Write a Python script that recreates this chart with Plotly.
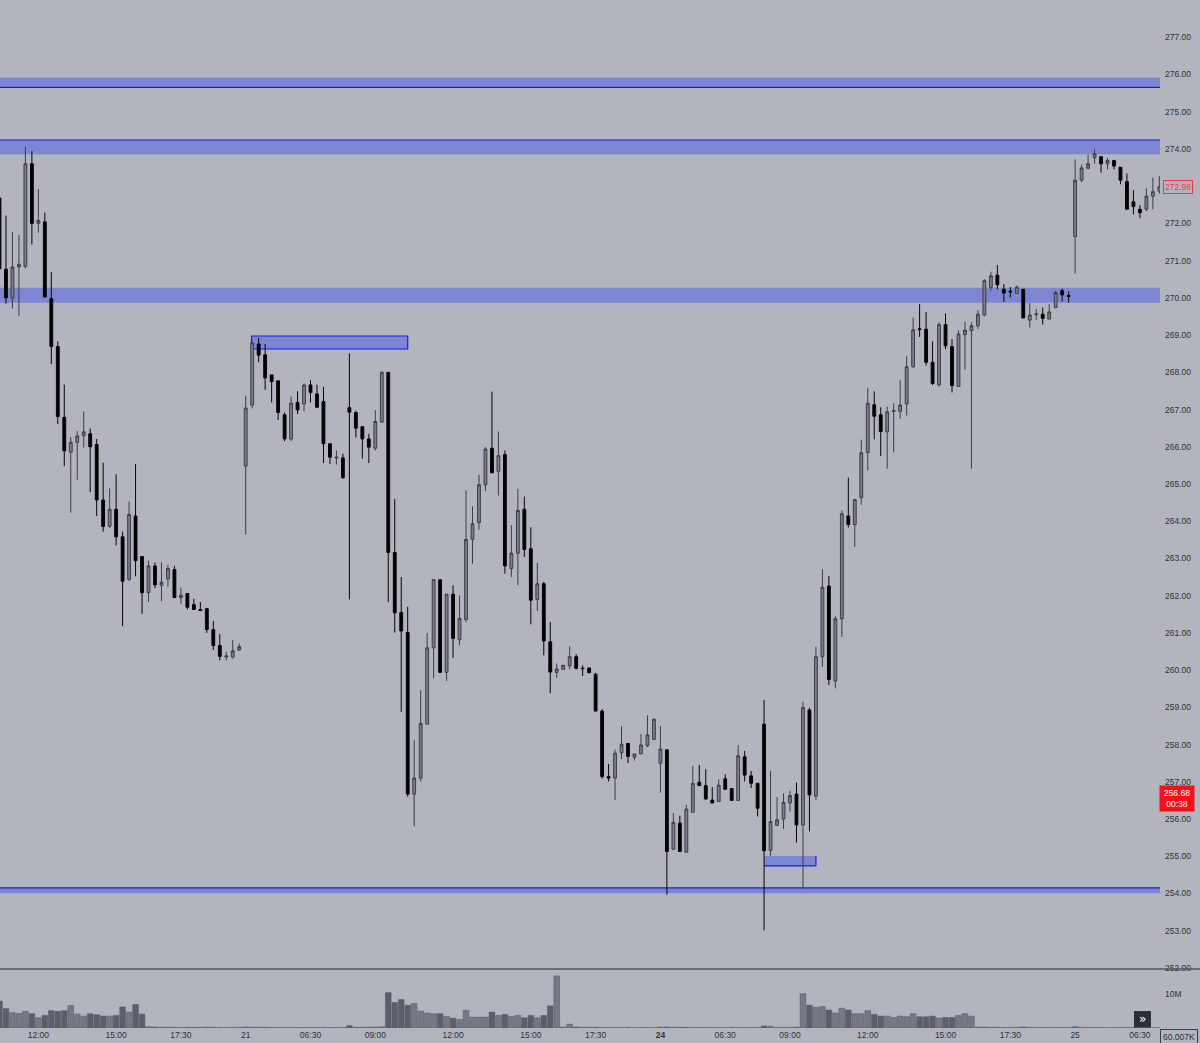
import plotly.graph_objects as go

# ---------------- data (15-minute bars, extended hours) ----------------
opens = [272.68, 270.77, 270.00, 270.83, 270.85, 273.60, 272.00, 272.04, 269.98, 268.69,
         266.79, 265.85, 266.12, 266.30, 266.35, 266.06, 264.57, 263.86, 264.32, 263.58,
         262.44, 264.14, 263.05, 262.08, 262.80, 262.28, 262.45, 262.70, 261.95, 262.06,
         261.76, 261.63, 261.65, 261.09, 260.66, 260.35, 260.35, 260.54, 265.48, 267.12,
         268.76, 268.47, 267.93, 267.77, 266.86, 266.21, 267.19, 267.15, 267.66, 267.42,
         267.21, 266.08, 265.70, 265.70, 267.05, 266.92, 266.54, 266.21, 265.96, 266.66,
         268.00, 263.16, 261.55, 261.01, 256.67, 257.10, 258.55, 260.60, 262.43, 259.94,
         262.04, 260.82, 261.36, 263.51, 263.96, 264.98, 265.96, 265.34, 265.79, 262.73,
         263.14, 264.32, 263.26, 261.90, 262.32, 260.76, 259.94, 260.02, 260.12, 260.36,
         260.05, 260.06, 259.89, 258.90, 257.14, 257.10, 257.78, 258.03, 257.66, 257.75,
         257.97, 258.14, 257.50, 257.86, 255.19, 255.89, 255.11, 256.18, 256.99, 256.90,
         256.51, 256.47, 257.08, 256.82, 256.50, 257.67, 257.16, 256.96, 258.55, 255.16,
         255.83, 256.00, 256.43, 256.67, 255.84, 258.93, 256.62, 260.36, 262.26, 259.71,
         261.38, 264.14, 263.91, 264.63, 265.84, 267.13, 266.86, 266.40, 266.95, 266.95,
         267.15, 268.15, 269.17, 269.16, 268.27, 267.67, 269.28, 268.69, 267.62, 269.01,
         269.12, 269.25, 269.54, 270.28, 270.61, 270.23, 270.18, 270.12, 270.23, 269.40,
         269.55, 269.56, 269.43, 269.74, 270.19, 270.06, 271.64, 273.16, 273.48, 273.76,
         273.79, 273.60, 273.69, 273.51, 273.12, 272.58, 272.38, 272.38, 272.73, 272.87]
highs = [272.72, 272.21, 271.77, 271.69, 274.06, 273.94, 272.92, 272.29, 270.69, 268.83,
         267.67, 266.26, 266.42, 266.95, 266.49, 266.21, 265.57, 264.88, 265.26, 263.72,
         264.53, 265.54, 263.05, 262.94, 262.89, 262.89, 262.83, 262.80, 262.22, 262.06,
         261.92, 261.83, 261.65, 261.32, 260.97, 260.49, 260.81, 260.72, 267.37, 268.83,
         268.92, 268.76, 267.93, 267.77, 266.92, 267.35, 267.49, 267.70, 267.79, 267.67,
         267.61, 266.08, 265.90, 265.81, 268.51, 266.97, 266.54, 266.35, 266.99, 268.02,
         268.00, 264.60, 262.50, 261.70, 258.12, 259.46, 261.00, 262.43, 262.43, 262.04,
         262.28, 262.01, 264.83, 264.40, 265.25, 265.99, 267.48, 266.41, 265.90, 263.89,
         264.87, 264.66, 263.84, 262.88, 262.37, 261.29, 260.18, 260.13, 260.64, 260.43,
         260.13, 260.06, 259.93, 258.95, 257.48, 257.87, 258.50, 258.03, 257.75, 258.28,
         258.79, 258.70, 258.50, 257.86, 256.16, 256.09, 256.38, 257.43, 257.45, 257.34,
         256.86, 257.07, 257.20, 256.82, 257.99, 257.83, 257.29, 256.96, 259.20, 257.29,
         256.59, 256.69, 256.76, 256.98, 259.15, 258.99, 260.63, 262.71, 262.53, 261.45,
         264.29, 265.17, 264.58, 266.19, 267.58, 267.49, 267.06, 267.08, 267.17, 267.79,
         268.43, 269.47, 269.83, 269.62, 268.83, 269.34, 269.58, 268.89, 269.13, 269.36,
         269.34, 269.67, 270.50, 270.70, 270.88, 270.37, 270.29, 270.33, 270.23, 269.86,
         269.70, 269.74, 269.83, 270.19, 270.25, 270.17, 273.72, 273.58, 273.85, 273.99,
         273.79, 273.76, 273.69, 273.51, 273.34, 272.89, 272.49, 272.94, 273.23, 273.27]
lows = [270.00, 269.84, 269.71, 269.52, 270.79, 271.43, 271.75, 270.02, 268.22, 266.61,
        265.48, 264.23, 265.11, 265.98, 264.78, 264.14, 263.72, 263.82, 263.35, 261.18,
        262.39, 262.52, 261.51, 261.83, 262.20, 261.85, 262.24, 261.95, 261.78, 261.63,
        261.63, 261.60, 261.00, 260.54, 260.26, 260.26, 260.31, 260.52, 263.64, 267.03,
        268.27, 267.53, 267.19, 266.72, 266.15, 266.15, 266.88, 266.95, 267.19, 267.06,
        265.56, 265.54, 265.52, 265.14, 261.90, 266.25, 265.68, 265.56, 265.90, 266.66,
        261.83, 261.01, 258.88, 256.60, 255.80, 257.01, 258.55, 259.78, 259.94, 259.71,
        260.33, 260.67, 261.29, 262.86, 263.77, 264.81, 265.30, 264.69, 262.59, 262.50,
        262.28, 263.04, 261.23, 261.59, 260.40, 259.38, 259.79, 260.02, 260.02, 260.02,
        259.84, 259.93, 258.90, 257.08, 257.01, 256.51, 257.61, 257.50, 257.57, 257.75,
        257.93, 258.14, 256.71, 253.97, 255.19, 255.13, 255.11, 256.18, 256.90, 256.51,
        256.43, 256.47, 256.80, 256.50, 256.50, 257.01, 256.83, 256.07, 253.01, 255.01,
        255.83, 255.73, 256.20, 255.37, 254.12, 255.67, 256.51, 260.09, 259.60, 259.51,
        260.89, 263.83, 263.31, 264.44, 265.36, 266.20, 265.75, 265.41, 265.85, 266.75,
        266.84, 268.12, 268.95, 268.18, 267.66, 267.61, 268.62, 267.46, 267.62, 268.07,
        265.41, 269.16, 269.50, 270.19, 270.23, 269.89, 270.01, 270.12, 269.46, 269.20,
        269.41, 269.28, 269.43, 269.72, 269.90, 269.87, 270.65, 273.11, 273.45, 273.60,
        273.36, 273.45, 273.45, 273.05, 272.38, 272.24, 272.14, 272.33, 272.38, 272.80]
closes = [270.78, 270.00, 270.83, 270.90, 273.60, 272.00, 272.08, 270.02, 268.69, 266.81,
          265.89, 266.12, 266.29, 266.40, 266.00, 264.57, 263.86, 264.32, 263.58, 262.39,
          264.18, 262.94, 262.08, 262.80, 262.29, 262.36, 262.73, 261.95, 262.01, 261.69,
          261.63, 261.60, 261.09, 260.66, 260.37, 260.38, 260.52, 260.63, 267.04, 268.79,
          268.46, 267.85, 267.75, 266.92, 266.21, 267.17, 266.99, 267.66, 267.46, 267.06,
          266.08, 265.72, 265.72, 265.17, 266.93, 266.50, 266.21, 265.99, 266.68, 268.00,
          263.16, 261.54, 261.05, 256.67, 257.10, 258.57, 260.60, 262.43, 259.94, 262.04,
          260.85, 261.39, 263.51, 263.93, 264.98, 265.94, 265.30, 265.76, 262.80, 263.14,
          264.29, 263.24, 261.88, 262.32, 260.78, 259.95, 260.03, 260.13, 260.36, 260.05,
          260.04, 259.93, 258.90, 257.14, 257.10, 257.77, 258.01, 257.68, 257.75, 257.99,
          258.26, 258.68, 257.88, 255.13, 255.91, 255.13, 256.27, 256.96, 256.90, 256.54,
          256.43, 256.91, 256.80, 256.50, 257.70, 257.18, 256.96, 256.29, 255.15, 255.93,
          255.98, 256.45, 256.63, 255.84, 258.99, 256.65, 260.36, 262.23, 259.75, 261.38,
          264.20, 263.91, 264.58, 265.84, 267.17, 266.82, 266.41, 266.94, 266.97, 267.12,
          268.15, 269.14, 269.15, 268.27, 267.70, 269.28, 268.71, 267.64, 269.03, 269.13,
          269.25, 269.56, 270.46, 270.59, 270.35, 270.13, 270.16, 270.29, 269.46, 269.54,
          269.57, 269.45, 269.62, 270.14, 270.08, 270.04, 273.16, 273.49, 273.60, 273.87,
          273.60, 273.69, 273.54, 273.16, 272.38, 272.45, 272.29, 272.73, 272.85, 272.98]
volumes_m = [7.9, 5.7, 4.5, 4.3, 4.9, 4.2, 3.0, 3.7, 5.1, 4.9, 5.1, 6.6, 4.1, 3.5, 4.2, 3.9,
             3.5, 3.5, 3.7, 6.2, 4.7, 6.9, 4.1,
             0.4, 0.3, 0.25, 0.2, 0.2, 0.15, 0.2, 0.15, 0.2, 0.25, 0.2, 0.15, 0.15, 0.2, 0.2,
             0.3, 0.25, 0.2, 0.2, 0.15, 0.15, 0.15, 0.15, 0.1, 0.15, 0.15, 0.15, 0.15, 0.1,
             0.15, 0.15, 0.7, 0.2, 0.2, 0.25, 0.3, 0.35,
             10.4, 7.5, 8.4, 6.7, 7.2, 5.0, 4.4, 4.2, 4.2, 3.4, 2.9, 2.5, 5.2, 3.2, 3.2, 3.2,
             4.7, 3.7, 4.0, 3.4, 3.7, 3.0, 3.7, 3.0, 3.7, 6.5, 15.3,
             0.3, 1.1, 0.3, 0.2, 0.2, 0.2, 0.15, 0.15, 0.2, 0.15, 0.15, 0.1, 0.15, 0.15, 0.1,
             0.3, 0.3, 0.2, 0.2, 0.2, 0.15, 0.15, 0.1, 0.15, 0.1, 0.1, 0.15, 0.15, 0.1, 0.1,
             0.15, 0.6, 0.5, 0.2, 0.2, 0.2, 0.25,
             10.1, 6.7, 6.1, 6.3, 5.3, 4.4, 5.8, 5.3, 4.2, 4.2, 5.1, 4.0, 3.5, 3.5, 3.1, 3.5,
             3.3, 4.2, 3.3, 3.3, 3.5, 2.9, 3.1, 3.1, 3.7, 4.2, 3.5,
             0.3, 0.3, 0.2, 0.2, 0.15, 0.15, 0.2, 0.3, 0.2, 0.15, 0.15, 0.2, 0.15, 0.15, 0.15,
             0.4, 0.2, 0.15, 0.15, 0.15, 0.1, 0.1, 0.1, 0.15, 0.1, 0.1, 0.1, 0.1, 0.1]
bar_index = list(range(len(closes)))

tick_positions = [6, 18, 28, 38, 48, 58, 70, 82, 92, 102, 112, 122, 134, 146, 156, 166, 176]
tick_labels = ["12:00", "15:00", "17:30", "21", "06:30", "09:00", "12:00", "15:00", "17:30",
               "<b>24</b>", "06:30", "09:00", "12:00", "15:00", "17:30", "25", "06:30"]

# horizontal zones (price low, price high)
zones = [(275.655, 275.913), (273.86, 274.24), (269.87, 270.27), (254.01, 254.15)]
zone_lines = [275.655, 274.24, None, 254.15]
box_a = (38.9, 63.0, 268.626, 268.975)
box_b = (118.0, 126.0, 254.74, 255.01)

last_price = 272.98
other_price = "256.68"
other_timer = "00:38"

# ---------------- figure ----------------
BG = "#b2b5be"
ZONE = "#7c86d3"
BLUE = "#1a1af0"
FONT = dict(family="Liberation Sans, Arial, sans-serif", size=8.5, color="#2e3038")

fig = go.Figure()
fig.add_trace(go.Candlestick(
    x=bar_index, open=opens, high=highs, low=lows, close=closes,
    increasing=dict(line=dict(color="#3c3e46", width=1), fillcolor="#7a7d88"),
    decreasing=dict(line=dict(color="#050505", width=1), fillcolor="#000000"),
    whiskerwidth=0, yaxis="y", xaxis="x", showlegend=False, hoverinfo="skip"))

vol_colors = ["#767985" if c >= o else "#5c5f6b" for o, c in zip(opens, closes)]
fig.add_trace(go.Bar(
    x=bar_index, y=volumes_m, marker=dict(color=vol_colors, line=dict(width=0.5, color="#555862")),
    yaxis="y2", xaxis="x", showlegend=False, hoverinfo="skip"))

shapes = []
for (lo, hi), ln in zip(zones, zone_lines):
    shapes.append(dict(type="rect", xref="paper", yref="y", x0=0, x1=1, y0=lo, y1=hi,
                       fillcolor=ZONE, line=dict(width=0), layer="below"))
    if ln is not None:
        shapes.append(dict(type="line", xref="paper", yref="y", x0=0, x1=1, y0=ln, y1=ln,
                           line=dict(color=BLUE, width=1.2), layer="below"))
shapes.append(dict(type="rect", xref="x", yref="y", x0=box_a[0], x1=box_a[1], y0=box_a[2], y1=box_a[3],
                   fillcolor=ZONE, line=dict(color=BLUE, width=1.2), layer="below"))
shapes.append(dict(type="rect", xref="x", yref="y", x0=box_b[0], x1=box_b[1], y0=box_b[2], y1=box_b[3],
                   fillcolor=ZONE, line=dict(width=0), layer="below"))
shapes.append(dict(type="line", xref="x", yref="y", x0=box_b[0], x1=box_b[1], y0=box_b[2], y1=box_b[2],
                   line=dict(color=BLUE, width=1.2), layer="below"))
shapes.append(dict(type="line", xref="x", yref="y", x0=box_b[1], x1=box_b[1], y0=box_b[2], y1=box_b[3],
                   line=dict(color=BLUE, width=1.2), layer="below"))
# panel separator
shapes.append(dict(type="line", xref="paper", yref="paper", x0=0, x1=1.04, y0=0.0574, y1=0.0574,
                   line=dict(color="#50535c", width=1.5), layer="above"))
# scroll button
shapes.append(dict(type="rect", xref="paper", yref="paper", x0=0.9776, x1=0.9922, y0=0.0005, y1=0.0165,
                   fillcolor="#2a2e39", line=dict(width=0), layer="above"))

annotations = [
    dict(xref="paper", yref="paper", x=0.9849, y=0.0085, text="»", showarrow=False,
         xanchor="center", yanchor="middle",
         font=dict(family="DejaVu Sans", size=12, color="#ffffff")),
    dict(xref="paper", yref="y", x=1.0025, y=last_price, xanchor="left", yanchor="middle",
         text=f"{last_price:.2f}", showarrow=False, font=dict(FONT, color="#f23645"),
         bordercolor="#f23645", borderwidth=1, borderpad=1, bgcolor=BG),
    dict(xref="paper", yref="y", x=0.9995, y=256.54, xanchor="left", yanchor="middle",
         text=f"{other_price}<br>{other_timer}", showarrow=False,
         font=dict(FONT, color="#ffffff"), bgcolor="#f5101a", borderpad=2, width=30),
    dict(xref="paper", yref="paper", x=1.0, y=-0.001, xanchor="left", yanchor="top",
         text="60.007K", showarrow=False, font=FONT, bordercolor="#3a3c44", borderwidth=1,
         borderpad=2, bgcolor=BG),
]

fig.update_layout(
    width=1200, height=1043,
    margin=dict(l=0, r=40, t=0, b=15),
    paper_bgcolor=BG, plot_bgcolor=BG,
    font=FONT,
    boxgap=0.38,
    bargap=0.12,
    xaxis=dict(range=[0.08, 179.1], anchor="y2", tickmode="array", tickvals=tick_positions,
               ticktext=tick_labels, showgrid=False, zeroline=False, showline=False,
               ticks="", rangeslider=dict(visible=False), tickfont=FONT),
    yaxis=dict(domain=[0.0584, 1.0], range=[252.0, 278.0], side="right", anchor="x",
               dtick=1, tick0=252, tickformat=".2f", showgrid=False, zeroline=False,
               showline=False, ticks="", ticklabelstandoff=4, tickfont=FONT),
    yaxis2=dict(domain=[0.0, 0.0574], range=[0, 17.35], side="right", anchor="x",
                tickmode="array", tickvals=[10], ticktext=["10M"], showgrid=False,
                zeroline=False, showline=False, ticks="", ticklabelstandoff=4, tickfont=FONT),
    shapes=shapes, annotations=annotations,
)

fig.write_html("out.html", config={"displayModeBar": False},
               post_script="document.body.style.margin='0px';document.body.style.overflow='hidden';document.body.style.background='#b2b5be';")
